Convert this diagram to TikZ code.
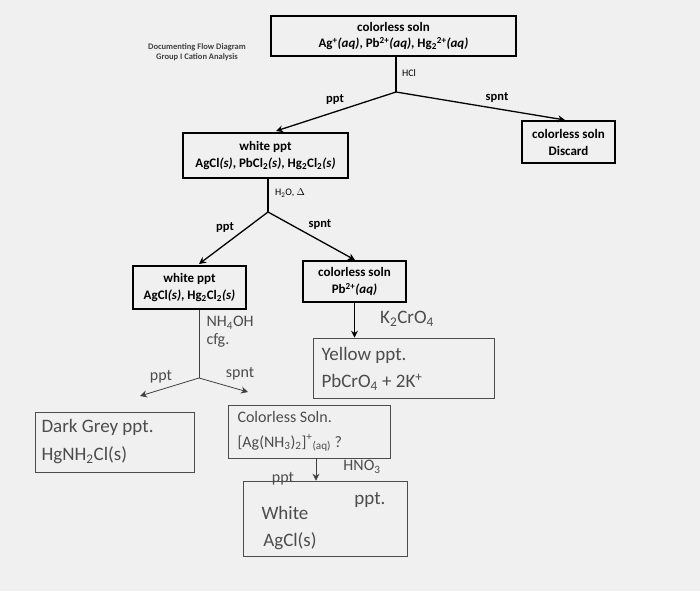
\documentclass[tikz,border=0pt]{standalone}
\usepackage{fontspec}
\setmainfont{Carlito}
\usetikzlibrary{arrows.meta}
\newcommand{\sbs}[1]{\textsubscript{#1}}
\newcommand{\sps}[1]{\textsuperscript{#1}}
\begin{document}
\begin{tikzpicture}[x=1pt,y=-1pt,
  box/.style={draw,line width=1.2pt,align=center,inner sep=0pt,font=\bfseries\fontsize{13}{15}\selectfont},
  hbox/.style={draw=black!70,line width=0.7pt,align=left,inner sep=0pt,text=black!70},
  arr/.style={line width=1.3pt,-{Stealth[length=7pt,width=7pt]}},
  harr/.style={line width=0.8pt,draw=black!75,-{Stealth[length=7pt,width=7pt]}},
  lab/.style={font=\bfseries\fontsize{12.5}{14}\selectfont},
  hlab/.style={font=\fontsize{19}{21}\selectfont,text=black!70},
  slab/.style={font=\fontsize{16}{18}\selectfont,text=black!70}]
\fill[black!6] (0,0) rectangle (700,591);
\useasboundingbox (0,0) rectangle (700,591);
\node[font=\bfseries\fontsize{8.5}{10}\selectfont,text=black!75,align=center] (title) at (197,52) {Documenting Flow Diagram\\Group I Cation Analysis};
\node[box,minimum width=245,minimum height=40] (b1) at (393.5,36) {colorless soln\\[1pt] Ag\sps{+}\textit{(aq)}, Pb\sps{2+}\textit{(aq)}, Hg\sbs{2}\sps{2+}\textit{(aq)}};
\coordinate (j1) at (396,92);
\node[box,minimum width=93,minimum height=42] (b2) at (568.5,142) {colorless soln\\[2pt] Discard};
\node[box,minimum width=165,minimum height=45] (b3) at (265.5,155.5) {white ppt\\[2pt] AgCl\textit{(s)}, PbCl\sbs{2}\textit{(s)}, Hg\sbs{2}Cl\sbs{2}\textit{(s)}};
\draw[line width=1.3pt] (b1.south -| j1) -- (j1);
\node[font=\fontsize{10}{11}\selectfont] (hcl) at (409,73) {HCl};
\draw[arr] (j1) -- (276,131);
\draw[arr] (j1) -- (565,120);
\node[lab] (l1) at (335,100) {ppt};
\node[lab] (l2) at (497,98) {spnt};
\coordinate (j2) at (268,212);
\draw[line width=1.3pt] (b3.south -| j2) -- (j2);
\node[font=\fontsize{10}{11}\selectfont] (h2o) at (290,193) {H\sbs{2}O, $\Delta$};
\node[box,minimum width=113,minimum height=43] (b4) at (189.5,287.5) {white ppt\\[2pt] AgCl\textit{(s)}, Hg\sbs{2}Cl\sbs{2}\textit{(s)}};
\node[box,minimum width=103,minimum height=41] (b5) at (354.5,281.5) {colorless soln\\[2pt] Pb\sps{2+}\textit{(aq)}};
\draw[arr] (j2) -- (199,264);
\draw[arr] (j2) -- (355,260);
\node[lab] (l3) at (225,228) {ppt};
\node[lab] (l4) at (320,225) {spnt};
\node[hbox,minimum width=181,minimum height=60] (b6) at (403.5,368) {};
\node[hlab,anchor=west] (t6) at (318,355) {Yellow ppt.};
\node[hlab,anchor=west] (t6b) at (318,382) {PbCrO\sbs{4} + 2K\sps{+}};
\draw[line width=1.3pt,-{Stealth[length=7pt,width=7pt]}] (b5.south) -- (b6.north -| b5.south);
\node[hlab] (k) at (407,319) {K\sbs{2}CrO\sbs{4}};
\coordinate (j3) at (199,378);
\draw[harr,-] (b4.south -| j3) -- (j3);
\node[slab,anchor=west,align=left] (nh) at (203,332) {NH\sbs{4}OH\\cfg.};
\node[hbox,minimum width=159,minimum height=60] (b7) at (114.5,442) {};
\node[hlab,anchor=west] (t7) at (38,427) {Dark Grey ppt.};
\node[hlab,anchor=west] (t7b) at (38,455) {HgNH\sbs{2}Cl(s)};
\node[hbox,minimum width=162,minimum height=53] (b8) at (309,431.5) {};
\node[slab,anchor=west] (t8) at (234,417) {Colorless Soln.};
\node[slab,anchor=west] (t8b) at (234,443) {[Ag(NH\sbs{3})\sbs{2}]\sps{+}\sbs{(aq)} ?};
\draw[harr] (j3) -- (140,396);
\draw[harr] (j3) -- (248,392);
\node[slab] (l5) at (161,377) {ppt};
\node[slab] (l6) at (240,374) {spnt};
\node[hbox,minimum width=164,minimum height=75] (b9) at (325,518.5) {};
\node[hlab] (t9) at (285,513) {White};
\node[hlab] (t9c) at (370,500) {ppt.};
\node[hlab] (t9b) at (290,541) {AgCl(s)};
\draw[harr] (b8.south -| 316,0) -- (b9.north -| 316,0);
\node[slab] (hn) at (362,467) {HNO\sbs{3}};
\node[slab] (l7) at (283,479) {ppt};
\end{tikzpicture}
\end{document}
